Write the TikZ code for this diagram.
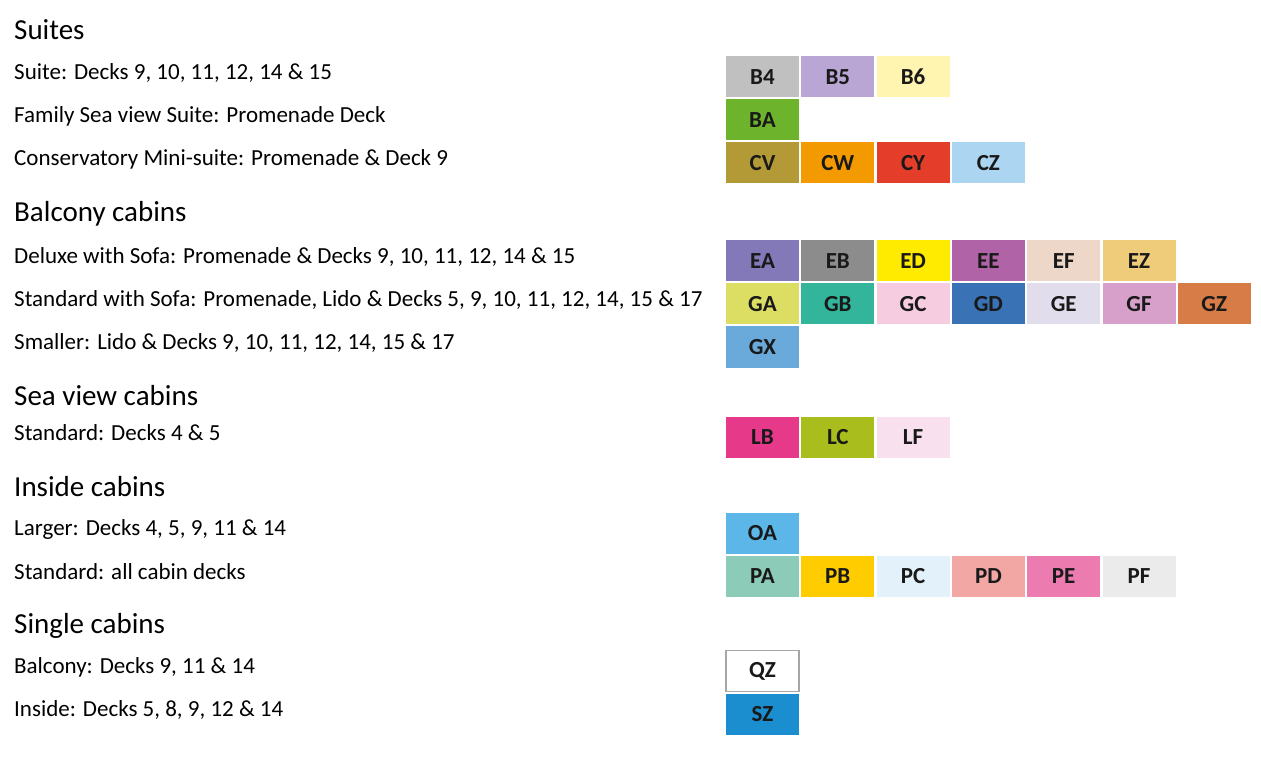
\documentclass[tikz,border=0pt]{standalone}
\usepackage{fontspec}
\setmainfont{Carlito}
\begin{document}
\begin{tikzpicture}[x=1pt,y=-1pt,
  lbl/.style={anchor=west,inner sep=0pt,font=\fontsize{23}{26}\selectfont},
  head/.style={anchor=west,inner sep=0pt,font=\fontsize{29}{32}\selectfont},
  box/.style={minimum width=73pt,minimum height=41pt,inner sep=0pt,font=\bfseries\fontsize{23}{26}\selectfont,text=black!90}]
\useasboundingbox (0,0) rectangle (1261,759);
\definecolor{cB4}{HTML}{C0C0C0}\definecolor{cB5}{HTML}{B9A6D4}\definecolor{cB6}{HTML}{FFF5B0}
\definecolor{cBA}{HTML}{6DB42C}\definecolor{cCV}{HTML}{B39A36}\definecolor{cCW}{HTML}{F39A00}
\definecolor{cCY}{HTML}{E43D2A}\definecolor{cCZ}{HTML}{ABD5F1}\definecolor{cEA}{HTML}{8379B8}
\definecolor{cEB}{HTML}{8C8C8C}\definecolor{cED}{HTML}{FFEB00}\definecolor{cEE}{HTML}{B063A6}
\definecolor{cEF}{HTML}{ECD7C8}\definecolor{cEZ}{HTML}{EFCC7A}\definecolor{cGA}{HTML}{DCDE64}
\definecolor{cGB}{HTML}{33B59B}\definecolor{cGC}{HTML}{F6CCE0}\definecolor{cGD}{HTML}{3A72B6}
\definecolor{cGE}{HTML}{E2DDED}\definecolor{cGF}{HTML}{D6A0CA}\definecolor{cGZ}{HTML}{D77B47}
\definecolor{cGX}{HTML}{6AAADB}\definecolor{cLB}{HTML}{E6398A}\definecolor{cLC}{HTML}{A9BE1C}
\definecolor{cLF}{HTML}{F9E0EE}\definecolor{cOA}{HTML}{5DB6E8}\definecolor{cPA}{HTML}{8BCBB8}
\definecolor{cPB}{HTML}{FFCC00}\definecolor{cPC}{HTML}{E3F1FB}\definecolor{cPD}{HTML}{F2A7A5}
\definecolor{cPE}{HTML}{EC7BB0}\definecolor{cPF}{HTML}{EBEBEB}\definecolor{cQZ}{HTML}{FFFFFF}
\definecolor{cSZ}{HTML}{1A8ECF}
\node[head] (h1) at (14,30) {Suites};
\node[head] (h2) at (14,214) {Balcony cabins};
\node[head] (h3) at (14,396) {Sea view cabins};
\node[head] (h4) at (14,487) {Inside cabins};
\node[head] (h5) at (14,626) {Single cabins};
\foreach \y/\t/\codes [count=\r] in {
 77/{Suite: Decks 9, 10, 11, 12, 14 \& 15}/{B4,B5,B6},
 120/{Family Sea view Suite: Promenade Deck}/{BA},
 163/{Conservatory Mini-suite: Promenade \& Deck 9}/{CV,CW,CY,CZ},
 261/{Deluxe with Sofa: Promenade \& Decks 9, 10, 11, 12, 14 \& 15}/{EA,EB,ED,EE,EF,EZ},
 304/{Standard with Sofa: Promenade, Lido \& Decks 5, 9, 10, 11, 12, 14, 15 \& 17}/{GA,GB,GC,GD,GE,GF,GZ},
 347/{Smaller: Lido \& Decks 9, 10, 11, 12, 14, 15 \& 17}/{GX},
 437/{Standard: Decks 4 \& 5}/{LB,LC,LF},
 533/{Larger: Decks 4, 5, 9, 11 \& 14}/{OA},
 576/{Standard: all cabin decks}/{PA,PB,PC,PD,PE,PF},
 671/{Balcony: Decks 9, 11 \& 14}/{QZ},
 714/{Inside: Decks 5, 8, 9, 12 \& 14}/{SZ}}{
  \node[lbl] (t\r) at (14,\y-4) {\t};
  \foreach \c [count=\i from 0] in \codes {
    \node[box,fill=c\c] (\c) at (762.5+75.3*\i,\y) {\c};
  }
}
\draw[gray!70,line width=1.5pt] (QZ.south west) rectangle (QZ.north east);
\end{tikzpicture}
\end{document}
